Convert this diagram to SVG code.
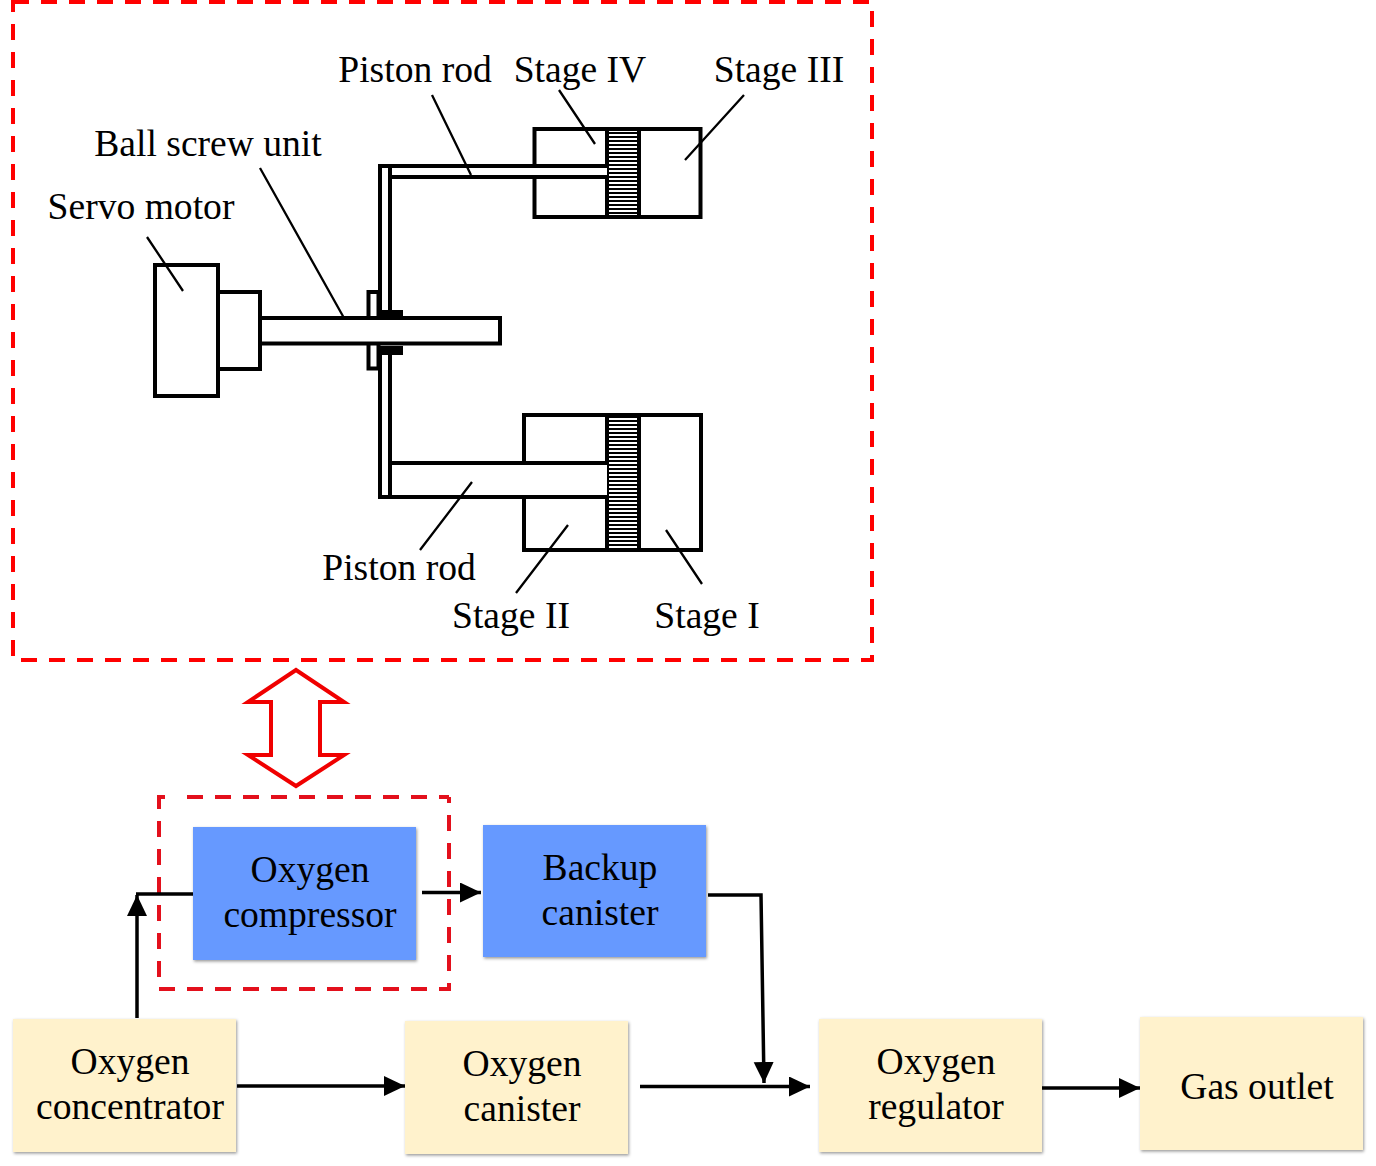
<svg xmlns="http://www.w3.org/2000/svg" width="1376" height="1166" viewBox="0 0 1376 1166">
<style>
text{font-family:"Liberation Serif","Times New Roman",serif;font-size:37.6px;fill:#000;text-anchor:middle}
.m{fill:none;stroke:#000;stroke-width:4}
.w{fill:#fff;stroke:#000;stroke-width:4}
.l{fill:none;stroke:#000;stroke-width:2.300}
.d{fill:none;stroke:#ff0000;stroke-width:4;stroke-dasharray:16 12}
.e{fill:none;stroke:#e3101c;stroke-width:4;stroke-dasharray:16 12}
.c{fill:none;stroke:#000;stroke-width:3.500}
.a{marker-end:url(#h)}
.b{fill:#6699ff;filter:url(#s)}
.y{fill:#fff2cc;filter:url(#s)}
</style>
<defs>
<marker id="h" markerUnits="userSpaceOnUse" markerWidth="22" markerHeight="22" refX="21" refY="10" orient="auto"><path d="M0 0L21 10L0 20Z" fill="#000"/></marker>
<pattern id="p" width="4" height="4" patternUnits="userSpaceOnUse"><rect width="4" height="2" fill="#000"/></pattern>
<filter id="s" x="-5%" y="-5%" width="110%" height="110%"><feDropShadow dx="1" dy="1.500" stdDeviation="1.800" flood-color="#000" flood-opacity="0.400"/></filter>
</defs>
<g id="outer-frame">
<path class="d" d="M13 2H872M872 11V660M21 660H874M13 -4V660"/>
</g>
<g id="stage-upper">
<rect class="w" x="534.500" y="129" width="166" height="88"/>
<rect x="607" y="129" width="32" height="88" fill="url(#p)"/>
<path class="m" d="M607 129V217M639 129V217"/>
</g>
<g id="stage-lower">
<rect class="w" x="524" y="415" width="177" height="135"/>
<rect x="607" y="415" width="32" height="135" fill="url(#p)"/>
<path class="m" d="M607 415V550M639 415V550"/>
</g>
<g id="rods">
<rect x="380" y="166" width="10" height="150" fill="#fff"/>
<rect x="390" y="166" width="217" height="11" fill="#fff"/>
<path class="m" d="M380 316V166H607M390 316V164M392 177H607"/>
<rect x="380" y="355" width="10" height="142" fill="#fff"/>
<rect x="390" y="463" width="217" height="34" fill="#fff"/>
<path class="m" d="M380 355V497H607M390 355V497M392 463H607"/>
</g>
<g id="servo-motor">
<rect class="w" x="155" y="265" width="63" height="131"/>
<rect class="w" x="218" y="292" width="42" height="77"/>
</g>
<g id="ball-screw-unit">
<rect class="w" x="368.500" y="292" width="10" height="76.500"/>
<rect x="380" y="310" width="23" height="8" fill="#000"/>
<rect x="380" y="346" width="23" height="9" fill="#000"/>
<rect class="w" x="260" y="318" width="240" height="25.500"/>
</g>
<g id="leaders">
<path class="l" d="M432 95L471 175M559 90L595 144M744 95L685 160M260 168L344 318M147 237L183 291M420 550L472 482M516 593L568 525M702 584L666 530"/>
</g>
<g id="labels">
<text x="415" y="82">Piston rod</text>
<text x="580" y="82">Stage IV</text>
<text x="779" y="82">Stage III</text>
<text x="208" y="156">Ball screw unit</text>
<text x="141" y="219">Servo motor</text>
<text x="399" y="580">Piston rod</text>
<text x="511" y="628">Stage II</text>
<text x="707" y="628">Stage I</text>
</g>
<g id="double-arrow"><path d="M296 670L344 702H320V755H344L296 786L248 755H271V702H248Z" fill="#fff" stroke="#f00000" stroke-width="4"/></g>
<g id="compressor-frame">
<path class="e" d="M157 797H165M187 797H449M449 797V803M449 815V989M159 989H451"/>
<path class="e" style="stroke-dashoffset:2" d="M159 795V989"/>
</g>
<g id="oxygen-compressor"><rect class="b" x="193" y="827" width="223" height="133"/><text x="310" y="882">Oxygen</text><text x="310" y="927">compressor</text></g>
<g id="backup-canister"><rect class="b" x="483" y="825" width="223" height="132"/><text x="600" y="880">Backup</text><text x="600" y="925">canister</text></g>
<g id="oxygen-concentrator"><rect class="y" x="13" y="1019" width="223" height="133"/><text x="130" y="1074">Oxygen</text><text x="130" y="1119">concentrator</text></g>
<g id="oxygen-canister"><rect class="y" x="405" y="1021" width="223" height="133"/><text x="522" y="1076">Oxygen</text><text x="522" y="1121">canister</text></g>
<g id="oxygen-regulator"><rect class="y" x="819" y="1019" width="223" height="133"/><text x="936" y="1074">Oxygen</text><text x="936" y="1119">regulator</text></g>
<g id="gas-outlet"><rect class="y" x="1140" y="1017" width="223" height="133"/><text x="1257" y="1099">Gas outlet</text></g>
<g id="connectors">
<path class="c" d="M193 894H136"/>
<path class="c a" d="M137 1018V895"/>
<path class="c a" d="M422 892.500H481"/>
<path class="c a" d="M708 895H761L764 1083"/>
<path class="c a" d="M237 1086H405"/>
<path class="c a" d="M640 1086.500H810"/>
<path class="c a" d="M1042 1088H1140"/>
</g>
</svg>
